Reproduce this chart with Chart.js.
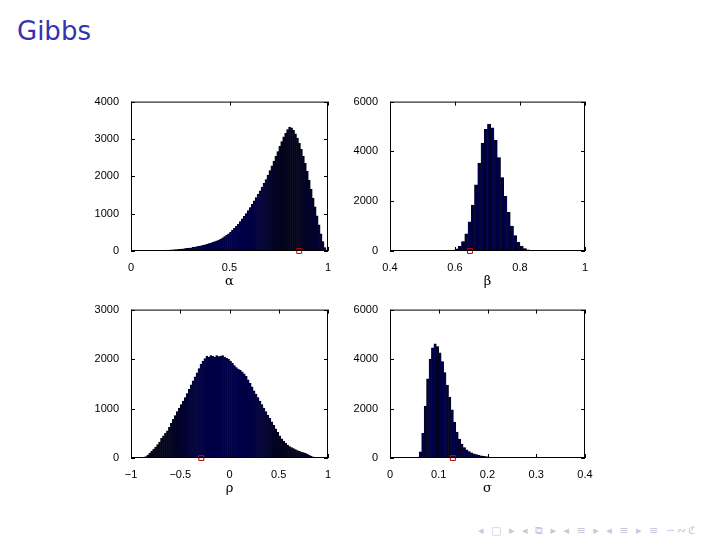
<!DOCTYPE html>
<html><head><meta charset="utf-8">
<script src="https://cdn.jsdelivr.net/npm/chart.js@4"></script>
<style>
body{margin:0;width:728px;height:546px;background:#fff;position:relative;overflow:hidden;font-family:"Liberation Sans",sans-serif}
#title{position:absolute;left:17px;top:16px;font-size:26px;color:#3333b3;font-family:"DejaVu Sans",sans-serif}
canvas{position:absolute}
#nav{position:absolute;left:478px;top:524px;font-size:11px;color:#c8c8dc;letter-spacing:2px;font-family:"DejaVu Sans"}
</style></head><body>
<div id="title">Gibbs</div>
<div id="nav">◂ ▢ ▸ ◂ ⧉ ▸ ◂ ≡ ▸ ◂ ≡ ▸ ≡ ∽∾ℭ</div>
<script>
// bin starts and widths
const alphaStart = 0.10, alphaWidth = 0.01;
const alphaCounts = [5,6,8,10,12,14,16,19,22,25,
28,32,36,40,45,50,56,62,70,78,
86,95,105,115,127,140,152,166,180,196,
212,230,250,270,295,320,350,385,420,460,
500,560,610,660,720,790,860,930,1000,1080,
1160,1250,1340,1430,1520,1610,1710,1810,1910,2030,
2150,2280,2410,2540,2660,2800,2930,3060,3160,3250,
3320,3300,3230,3140,3020,2880,2720,2540,2350,2130,
1900,1660,1420,1180,940,700,460,250,90,20];
const betaStart = 0.58, betaWidth = 0.01;
const betaCounts = [14,37,86,186,374,690,1170,1840,2660,3530,4330,4890,5100,4950,4450,3750,2950,2200,1550,1000,620,360,200,100,50,20,8];
const rhoStart = -0.90, rhoWidth = 0.02;
const rhoCounts = [5,15,30,60,100,140,180,220,270,320,
400,450,500,550,620,700,780,860,940,1010,
1080,1150,1220,1300,1390,1480,1560,1640,1720,1810,
1900,1960,2010,2060,2040,2070,2060,2040,2070,2050,
2060,2070,2040,2020,2000,1960,1920,1870,1830,1800,
1770,1740,1700,1650,1580,1510,1440,1360,1290,1220,
1150,1080,1010,940,870,800,730,660,590,520,
450,390,340,300,260,230,210,190,170,150,
135,120,110,95,80,60,40,25,12,5];
const sigmaStart = 0.05, sigmaWidth = 0.005;
const sigmaCounts = [0,40,250,1000,2100,3200,4000,4450,4620,4500,4250,3900,3450,2950,2450,1950,1450,1050,760,560,420,330,260,210,170,140,110,90,70,55,40,30,20,12,6,3];
// true-value markers
const alphaMark = 0.854, betaMark = 0.646, rhoMark = -0.286, sigmaMark = 0.129;
const alphaX = [0,1,0.5], betaX = [0.4,1,0.2], rhoX = [-1,1,0.5], sigmaX = [0,0.4,0.1];
const alphaY = [0,4000,1000], betaY = [0,6000,2000], rhoY = [0,3000,1000], sigmaY = [0,6000,2000];

const boxPlugin = {id:'box', afterDraw(c){
  const {ctx, chartArea:a, scales:{x,y}} = c;
  ctx.save(); ctx.strokeStyle='#000'; ctx.lineWidth=1;
  ctx.strokeRect(a.left+0.5,a.top+0.5,a.right-a.left-1,a.bottom-a.top-1);
  ctx.beginPath();
  x.ticks.forEach(t=>{const p=Math.round(x.getPixelForValue(t.value))+0.5;ctx.moveTo(p,a.bottom);ctx.lineTo(p,a.bottom-4);ctx.moveTo(p,a.top);ctx.lineTo(p,a.top+4);});
  y.ticks.forEach(t=>{const p=Math.round(y.getPixelForValue(t.value))+0.5;ctx.moveTo(a.left,p);ctx.lineTo(a.left+4,p);ctx.moveTo(a.right,p);ctx.lineTo(a.right-4,p);});
  ctx.stroke(); ctx.restore();
}};
const fmt = v => { let s = String(Math.round(v*100)/100); return s.replace('-','\u2212'); };

function make(left, top, w, h, start, width, counts, mark, xr, yr, label){
  const cv = document.createElement('canvas');
  const L=55, T=10, R=20, B=42;
  cv.style.left=(left-L)+'px'; cv.style.top=(top-T)+'px';
  cv.width=w+L+R; cv.height=h+T+B;
  cv.style.width=(w+L+R)+'px'; cv.style.height=(h+T+B)+'px';
  document.body.appendChild(cv);
  const bars = counts.map((v,i)=>({x:start+width*(i+0.5), y:v}));
  new Chart(cv,{
    data:{datasets:[
      {type:'bar',data:bars,backgroundColor:'#000048',borderColor:'#000',borderWidth:0.5,barPercentage:1,categoryPercentage:1,grouped:false,order:2},
      {type:'line',data:[{x:mark,y:0}],showLine:false,pointStyle:'rect',pointRadius:3.5,borderColor:'#c00',backgroundColor:'rgba(0,0,0,0)',borderWidth:1,clip:false,order:1}
    ]},
    options:{responsive:false,animation:false,devicePixelRatio:1,
      layout:{padding:{top:T,right:R}},
      plugins:{legend:{display:false},tooltip:{enabled:false}},
      scales:{
        x:{type:'linear',offset:false,min:xr[0],max:xr[1],grid:{display:false,offset:false},border:{display:false},
           afterBuildTicks(s){const t=[];for(let v=xr[0];v<=xr[1]+1e-9;v+=xr[2])t.push({value:Math.round(v*100)/100});s.ticks=t;},
           ticks:{color:'#000',font:{size:11,family:'Liberation Sans'},padding:2,maxRotation:0,autoSkip:false,callback:fmt},
           title:{display:true,text:label,color:'#000',font:{size:13,family:'DejaVu Serif'},padding:{top:0}},
           afterFit(s){s.height=B;}},
        y:{min:yr[0],max:yr[1],grid:{display:false},border:{display:false},
           ticks:{stepSize:yr[2],color:'#000',font:{size:11,family:'Liberation Sans'},padding:4,callback:v=>String(v)},
           afterFit(s){s.width=L;}}
      }},
    plugins:[boxPlugin]
  });
}
make(131,101,197,150,alphaStart,alphaWidth,alphaCounts,alphaMark,alphaX,alphaY,'α');
make(390,101,195,150,betaStart,betaWidth,betaCounts,betaMark,betaX,betaY,'β');
make(131,309,197,149,rhoStart,rhoWidth,rhoCounts,rhoMark,rhoX,rhoY,'ρ');
make(390,309,195,149,sigmaStart,sigmaWidth,sigmaCounts,sigmaMark,sigmaX,sigmaY,'σ');
</script>
</body></html>
